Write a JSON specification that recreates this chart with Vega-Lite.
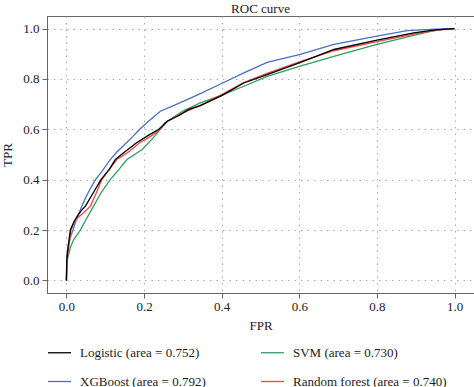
{
  "$schema": "https://vega.github.io/schema/vega-lite/v6.json",
  "width": 427,
  "height": 277,
  "autosize": {"type": "none"},
  "padding": {"left": 47, "top": 16, "right": 0, "bottom": 94},
  "background": "white",
  "title": {"text": "ROC curve", "font": "Liberation Serif", "fontSize": 13, "fontWeight": "normal", "color": "#222", "offset": 0},
  "config": {
    "view": {"stroke": "#666", "strokeWidth": 1},
    "font": "Liberation Serif",
    "axis": {
      "domainColor": "#666", "tickColor": "#666", "tickSize": 5,
      "labelFont": "Liberation Serif", "labelFontSize": 13, "labelColor": "#222",
      "titleFont": "Liberation Serif", "titleFontSize": 13, "titleFontWeight": "normal", "titleColor": "#222",
      "gridColor": "#aaa", "gridDash": [1.5, 5], "gridWidth": 1
    }
  },
  "data": {"values": [
    {"model": "SVM", "fpr": 0, "tpr": 0},
    {"model": "SVM", "fpr": 0.002, "tpr": 0.08},
    {"model": "SVM", "fpr": 0.01, "tpr": 0.13},
    {"model": "SVM", "fpr": 0.019, "tpr": 0.163},
    {"model": "SVM", "fpr": 0.036, "tpr": 0.2},
    {"model": "SVM", "fpr": 0.05, "tpr": 0.24},
    {"model": "SVM", "fpr": 0.07, "tpr": 0.295},
    {"model": "SVM", "fpr": 0.09, "tpr": 0.35},
    {"model": "SVM", "fpr": 0.113, "tpr": 0.4},
    {"model": "SVM", "fpr": 0.135, "tpr": 0.44},
    {"model": "SVM", "fpr": 0.156, "tpr": 0.48},
    {"model": "SVM", "fpr": 0.195, "tpr": 0.52},
    {"model": "SVM", "fpr": 0.22, "tpr": 0.56},
    {"model": "SVM", "fpr": 0.242, "tpr": 0.6},
    {"model": "SVM", "fpr": 0.26, "tpr": 0.632},
    {"model": "SVM", "fpr": 0.3, "tpr": 0.672},
    {"model": "SVM", "fpr": 0.345, "tpr": 0.705},
    {"model": "SVM", "fpr": 0.4, "tpr": 0.736},
    {"model": "SVM", "fpr": 0.457, "tpr": 0.771},
    {"model": "SVM", "fpr": 0.517, "tpr": 0.81},
    {"model": "SVM", "fpr": 0.6, "tpr": 0.85},
    {"model": "SVM", "fpr": 0.689, "tpr": 0.89},
    {"model": "SVM", "fpr": 0.8, "tpr": 0.937},
    {"model": "SVM", "fpr": 0.9, "tpr": 0.975},
    {"model": "SVM", "fpr": 0.938, "tpr": 0.989},
    {"model": "SVM", "fpr": 0.97, "tpr": 0.997},
    {"model": "SVM", "fpr": 1, "tpr": 1},
    {"model": "XGBoost", "fpr": 0, "tpr": 0},
    {"model": "XGBoost", "fpr": 0.001, "tpr": 0.1},
    {"model": "XGBoost", "fpr": 0.005, "tpr": 0.14},
    {"model": "XGBoost", "fpr": 0.01, "tpr": 0.17},
    {"model": "XGBoost", "fpr": 0.017, "tpr": 0.2},
    {"model": "XGBoost", "fpr": 0.025, "tpr": 0.24},
    {"model": "XGBoost", "fpr": 0.04, "tpr": 0.295},
    {"model": "XGBoost", "fpr": 0.05, "tpr": 0.33},
    {"model": "XGBoost", "fpr": 0.06, "tpr": 0.36},
    {"model": "XGBoost", "fpr": 0.075, "tpr": 0.4},
    {"model": "XGBoost", "fpr": 0.09, "tpr": 0.43},
    {"model": "XGBoost", "fpr": 0.113, "tpr": 0.48},
    {"model": "XGBoost", "fpr": 0.13, "tpr": 0.51},
    {"model": "XGBoost", "fpr": 0.15, "tpr": 0.54},
    {"model": "XGBoost", "fpr": 0.17, "tpr": 0.57},
    {"model": "XGBoost", "fpr": 0.189, "tpr": 0.6},
    {"model": "XGBoost", "fpr": 0.21, "tpr": 0.63},
    {"model": "XGBoost", "fpr": 0.242, "tpr": 0.672},
    {"model": "XGBoost", "fpr": 0.27, "tpr": 0.69},
    {"model": "XGBoost", "fpr": 0.311, "tpr": 0.718},
    {"model": "XGBoost", "fpr": 0.345, "tpr": 0.742},
    {"model": "XGBoost", "fpr": 0.4, "tpr": 0.782},
    {"model": "XGBoost", "fpr": 0.457, "tpr": 0.824},
    {"model": "XGBoost", "fpr": 0.517, "tpr": 0.866},
    {"model": "XGBoost", "fpr": 0.6, "tpr": 0.897},
    {"model": "XGBoost", "fpr": 0.689, "tpr": 0.937},
    {"model": "XGBoost", "fpr": 0.8, "tpr": 0.97},
    {"model": "XGBoost", "fpr": 0.878, "tpr": 0.992},
    {"model": "XGBoost", "fpr": 0.95, "tpr": 0.998},
    {"model": "XGBoost", "fpr": 1, "tpr": 1},
    {"model": "Random forest", "fpr": 0, "tpr": 0},
    {"model": "Random forest", "fpr": 0.001, "tpr": 0.07},
    {"model": "Random forest", "fpr": 0.005, "tpr": 0.12},
    {"model": "Random forest", "fpr": 0.012, "tpr": 0.2},
    {"model": "Random forest", "fpr": 0.02, "tpr": 0.23},
    {"model": "Random forest", "fpr": 0.03, "tpr": 0.25},
    {"model": "Random forest", "fpr": 0.045, "tpr": 0.27},
    {"model": "Random forest", "fpr": 0.062, "tpr": 0.295},
    {"model": "Random forest", "fpr": 0.075, "tpr": 0.34},
    {"model": "Random forest", "fpr": 0.091, "tpr": 0.4},
    {"model": "Random forest", "fpr": 0.11, "tpr": 0.44},
    {"model": "Random forest", "fpr": 0.13, "tpr": 0.48},
    {"model": "Random forest", "fpr": 0.16, "tpr": 0.51},
    {"model": "Random forest", "fpr": 0.188, "tpr": 0.546},
    {"model": "Random forest", "fpr": 0.215, "tpr": 0.57},
    {"model": "Random forest", "fpr": 0.242, "tpr": 0.6},
    {"model": "Random forest", "fpr": 0.253, "tpr": 0.625},
    {"model": "Random forest", "fpr": 0.28, "tpr": 0.65},
    {"model": "Random forest", "fpr": 0.315, "tpr": 0.675},
    {"model": "Random forest", "fpr": 0.345, "tpr": 0.695},
    {"model": "Random forest", "fpr": 0.4, "tpr": 0.738},
    {"model": "Random forest", "fpr": 0.457, "tpr": 0.786},
    {"model": "Random forest", "fpr": 0.517, "tpr": 0.822},
    {"model": "Random forest", "fpr": 0.6, "tpr": 0.868},
    {"model": "Random forest", "fpr": 0.689, "tpr": 0.912},
    {"model": "Random forest", "fpr": 0.8, "tpr": 0.948},
    {"model": "Random forest", "fpr": 0.895, "tpr": 0.978},
    {"model": "Random forest", "fpr": 0.95, "tpr": 0.993},
    {"model": "Random forest", "fpr": 1, "tpr": 1},
    {"model": "Logistic", "fpr": 0, "tpr": 0},
    {"model": "Logistic", "fpr": 0.001, "tpr": 0.08},
    {"model": "Logistic", "fpr": 0.005, "tpr": 0.14},
    {"model": "Logistic", "fpr": 0.01, "tpr": 0.2},
    {"model": "Logistic", "fpr": 0.02, "tpr": 0.235},
    {"model": "Logistic", "fpr": 0.028, "tpr": 0.255},
    {"model": "Logistic", "fpr": 0.04, "tpr": 0.28},
    {"model": "Logistic", "fpr": 0.049, "tpr": 0.295},
    {"model": "Logistic", "fpr": 0.07, "tpr": 0.35},
    {"model": "Logistic", "fpr": 0.089, "tpr": 0.4},
    {"model": "Logistic", "fpr": 0.11, "tpr": 0.44},
    {"model": "Logistic", "fpr": 0.126, "tpr": 0.48},
    {"model": "Logistic", "fpr": 0.15, "tpr": 0.51},
    {"model": "Logistic", "fpr": 0.18, "tpr": 0.546},
    {"model": "Logistic", "fpr": 0.21, "tpr": 0.575},
    {"model": "Logistic", "fpr": 0.238, "tpr": 0.6},
    {"model": "Logistic", "fpr": 0.26, "tpr": 0.632},
    {"model": "Logistic", "fpr": 0.29, "tpr": 0.655},
    {"model": "Logistic", "fpr": 0.315, "tpr": 0.679},
    {"model": "Logistic", "fpr": 0.345, "tpr": 0.694},
    {"model": "Logistic", "fpr": 0.4, "tpr": 0.734},
    {"model": "Logistic", "fpr": 0.457, "tpr": 0.784},
    {"model": "Logistic", "fpr": 0.517, "tpr": 0.817},
    {"model": "Logistic", "fpr": 0.6, "tpr": 0.864},
    {"model": "Logistic", "fpr": 0.689, "tpr": 0.917},
    {"model": "Logistic", "fpr": 0.8, "tpr": 0.954},
    {"model": "Logistic", "fpr": 0.895, "tpr": 0.983},
    {"model": "Logistic", "fpr": 0.95, "tpr": 0.995},
    {"model": "Logistic", "fpr": 1, "tpr": 1}
  ]},
  "mark": {"type": "line", "strokeWidth": 1.3},
  "encoding": {
    "x": {
      "field": "fpr", "type": "quantitative", "title": "FPR",
      "scale": {"domain": [-0.05, 1.05], "nice": false, "zero": false},
      "axis": {"values": [0, 0.2, 0.4, 0.6, 0.8, 1.0], "format": ".1f", "labelPadding": 2, "titlePadding": 6}
    },
    "y": {
      "field": "tpr", "type": "quantitative", "title": "TPR",
      "scale": {"domain": [-0.05, 1.05], "nice": false, "zero": false},
      "axis": {"values": [0, 0.2, 0.4, 0.6, 0.8, 1.0], "format": ".1f", "labelPadding": 3, "titlePadding": 8}
    },
    "color": {
      "field": "model", "type": "nominal",
      "scale": {
        "domain": ["Logistic", "SVM", "XGBoost", "Random forest"],
        "range": ["#000000", "#2f9e5e", "#4a6fc0", "#e8474c"]
      },
      "legend": {
        "title": null, "orient": "none", "legendX": 0, "legendY": 324, "columns": 2,
        "direction": "horizontal",
        "symbolType": "stroke", "symbolSize": 529, "symbolStrokeWidth": 1.3,
        "labelFont": "Liberation Serif", "labelFontSize": 13, "labelColor": "#222",
        "labelOffset": 8, "columnPadding": 52, "rowPadding": 9,
        "labelExpr": "datum.label == 'Logistic' ? 'Logistic (area = 0.752)' : datum.label == 'SVM' ? 'SVM (area = 0.730)' : datum.label == 'XGBoost' ? 'XGBoost (area = 0.792)' : 'Random forest (area = 0.740)'"
      }
    }
  }
}
